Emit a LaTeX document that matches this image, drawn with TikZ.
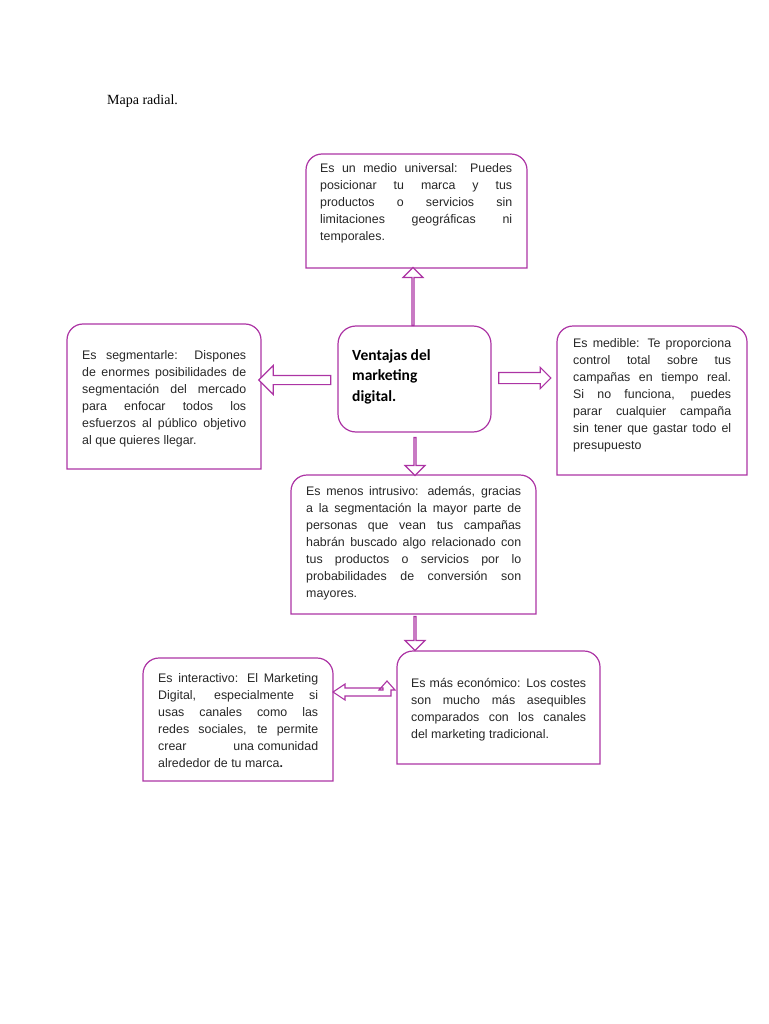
\documentclass[tikz,border=0pt]{standalone}
\usepackage{fontspec}
\setmainfont{Liberation Sans}
\newfontfamily\titlefont{Liberation Serif}
\newfontfamily\boldfont{Carlito}
\usetikzlibrary{shapes.arrows}
\definecolor{mag}{RGB}{172,52,164}
\tikzset{
 boxline/.style={draw=mag,line width=1.2pt},
 txt/.style={anchor=north west,inner sep=0pt,align=justify,font=\fontsize{12.4}{17}\selectfont,text=black!85},
 barrow/.style={single arrow,draw=mag,line width=1.1pt,fill=white,inner sep=0pt,text height=0pt,text depth=0pt,single arrow head indent=0pt,anchor=center}
}
\newcommand{\tbox}[5]{\draw[boxline] (#1,-#4) -- (#1,-#2-#5) arc(180:90:#5) -- (#3-#5,-#2) arc(90:0:#5) -- (#3,-#4) -- cycle;}
\begin{document}
\begin{tikzpicture}[x=1pt,y=1pt]
\useasboundingbox (0,0) rectangle (768,-1024);
\node[anchor=west,inner sep=0pt,font=\titlefont\fontsize{14}{16}\selectfont] (title) at (107,-101) {Mapa radial.};
% boxes
\tbox{306}{154}{527}{268}{16}
\tbox{67}{324}{261}{469}{16}
\tbox{557}{326}{747}{475}{16}
\tbox{291}{475}{536}{614}{16}
\tbox{397}{651}{600}{764}{16}
\tbox{143}{658}{333}{781}{16}
\draw[boxline,rounded corners=18] (338,-326) rectangle (491,-432);
% texts
\node[txt,text width=192pt] (top) at (320,-163) {Es un medio universal: Puedes\linebreak posicionar tu marca y tus\linebreak productos o servicios sin\linebreak limitaciones geográficas ni\linebreak temporales.};
\node[txt,text width=164pt] (left) at (82,-350) {Es segmentarle: Dispones\linebreak de enormes posibilidades de\linebreak segmentación del mercado\linebreak para enfocar todos los\linebreak esfuerzos al público objetivo\linebreak al que quieres llegar.};
\node[txt,text width=158pt] (right) at (573,-338) {Es medible: Te proporciona\linebreak control total sobre tus\linebreak campañas en tiempo real.\linebreak Si no funciona, puedes\linebreak parar cualquier campaña\linebreak sin tener que gastar todo el\linebreak presupuesto};
\node[txt,text width=215pt] (mid) at (306,-486) {Es menos intrusivo: además, gracias\linebreak a la segmentación la mayor parte de\linebreak personas que vean tus campañas\linebreak habrán buscado algo relacionado con\linebreak tus productos o servicios por lo\linebreak probabilidades de conversión son\linebreak mayores.};
\node[txt,text width=175pt] (econ) at (411,-678) {Es más económico: Los costes\linebreak son mucho más asequibles\linebreak comparados con los canales\linebreak del marketing tradicional.};
\node[txt,text width=160pt] (inter) at (158,-673) {Es interactivo: El Marketing\linebreak Digital, especialmente si\linebreak usas canales como las\linebreak redes sociales, te permite\linebreak crear\hfill una comunidad\linebreak alrededor de tu marca\textbf{.}};
\node[anchor=north west,inner sep=0pt,align=left,font=\boldfont\bfseries\fontsize{15.5}{20.5}\selectfont] (center) at (352,-349) {Ventajas del\\marketing\\digital.};
% block arrows
\node[barrow,minimum height=58pt,minimum width=20pt,inner xsep=0pt,inner ysep=5pt,single arrow head extend=5pt,shape border rotate=90] (aup) at (413,-297) {};
\node[barrow,minimum height=72pt,minimum width=28pt,inner ysep=4pt,single arrow head extend=10pt,shape border rotate=180] (aleft) at (297,-380) {};
\node[barrow,minimum height=52pt,minimum width=20pt,inner ysep=5pt,single arrow head extend=5pt] (aright) at (522,-378) {};
\node[barrow,minimum height=38pt,minimum width=20pt,inner ysep=5pt,single arrow head extend=5pt,shape border rotate=270] (adown) at (415,-456) {};
\node[barrow,minimum height=34pt,minimum width=20pt,inner ysep=5pt,single arrow head extend=5pt,shape border rotate=270] (adown2) at (415,-633) {};
\draw[draw=mag,line width=1.1pt,fill=white] (333,-692) -- (345,-684) -- (345,-688) -- (383,-688) -- (383,-690) -- (379,-690) -- (387,-681) -- (395,-690) -- (391,-690) -- (391,-696) -- (345,-696) -- (345,-700) -- cycle;
\end{tikzpicture}
\end{document}
